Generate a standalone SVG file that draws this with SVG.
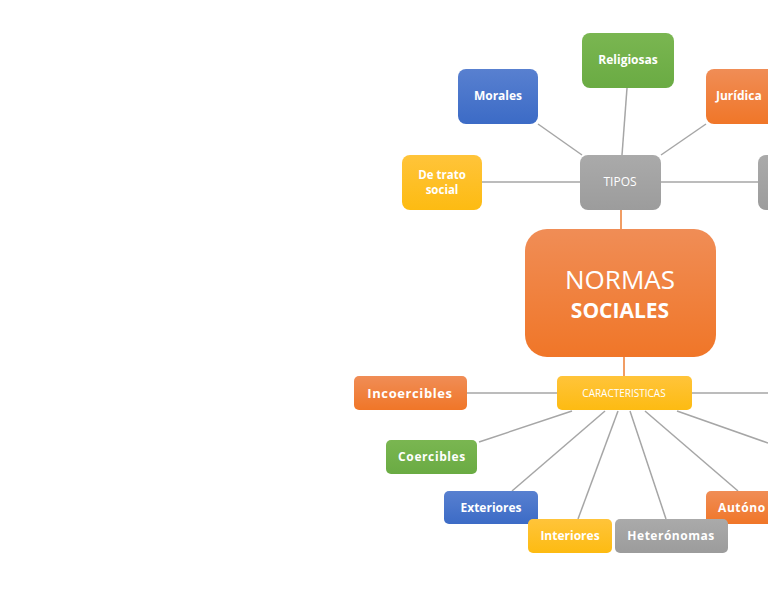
<svg xmlns="http://www.w3.org/2000/svg" width="768" height="594" viewBox="0 0 768 594">
<defs>
<linearGradient id="go" x1="0" y1="0" x2="0" y2="1"><stop offset="0" stop-color="#f08d56"/><stop offset="1" stop-color="#f07628"/></linearGradient>
<linearGradient id="gg" x1="0" y1="0" x2="0" y2="1"><stop offset="0" stop-color="#7ab651"/><stop offset="1" stop-color="#6aab43"/></linearGradient>
<linearGradient id="gb" x1="0" y1="0" x2="0" y2="1"><stop offset="0" stop-color="#5880d0"/><stop offset="1" stop-color="#3c6bc6"/></linearGradient>
<linearGradient id="gy" x1="0" y1="0" x2="0" y2="1"><stop offset="0" stop-color="#ffc43a"/><stop offset="1" stop-color="#fdbb12"/></linearGradient>
<linearGradient id="ga" x1="0" y1="0" x2="0" y2="1"><stop offset="0" stop-color="#aaaaaa"/><stop offset="1" stop-color="#9c9c9c"/></linearGradient>
</defs>
<style>
text{font-family:"Open Sans","Liberation Sans",sans-serif;fill:#fff;font-weight:bold;text-anchor:middle;font-size:12px}
.c line{stroke:#a6a6a6;stroke-width:1.5}
.c line.o{stroke:#ed7d31}
</style>
<rect width="768" height="594" fill="#fff"/>
<g class="c">
<line x1="538" y1="124" x2="582" y2="155"/>
<line x1="627" y1="88" x2="622" y2="155"/>
<line x1="706" y1="124" x2="661" y2="155"/>
<line x1="482" y1="182" x2="580" y2="182"/>
<line x1="661" y1="182" x2="758" y2="182"/>
<line class="o" x1="621" y1="210" x2="621" y2="229"/>
<line class="o" x1="624" y1="357" x2="624" y2="376"/>
<line x1="467" y1="393" x2="557" y2="393"/>
<line x1="692" y1="393" x2="768" y2="393"/>
<line x1="479" y1="442" x2="572" y2="411"/>
<line x1="512" y1="491" x2="605" y2="411"/>
<line x1="578" y1="519" x2="618" y2="411"/>
<line x1="666" y1="519" x2="630" y2="411"/>
<line x1="738" y1="491" x2="645" y2="411"/>
<line x1="677" y1="411" x2="768" y2="443"/>
</g>
<g id="religiosas"><rect x="582" y="33" width="92" height="55" rx="8" fill="url(#gg)"/><text x="628" y="64">Religiosas</text></g>
<g id="morales"><rect x="458" y="69" width="80" height="55" rx="8" fill="url(#gb)"/><text x="498" y="100">Morales</text></g>
<g id="juridicas"><rect x="706" y="69" width="80" height="55" rx="8" fill="url(#go)"/><text x="716" y="100" style="text-anchor:start">Jurídica</text></g>
<g id="detrato"><rect x="402" y="155" width="80" height="55" rx="8" fill="url(#gy)"/><text x="442" y="179" style="font-size:11.5px">De trato</text><text x="442" y="194" style="font-size:11.5px">social</text></g>
<g id="tipos"><rect x="580" y="155" width="81" height="55" rx="8" fill="url(#ga)"/><text x="620" y="186" style="font-weight:normal">TIPOS</text></g>
<g id="otro"><rect x="758" y="155" width="40" height="55" rx="8" fill="url(#ga)"/></g>
<g id="normas"><rect x="525" y="229" width="191" height="128" rx="22" fill="url(#go)"/><text x="620" y="289" style="font-size:26px;font-weight:normal">NORMAS</text><text x="620" y="318" style="font-size:21px">SOCIALES</text></g>
<g id="caracteristicas"><rect x="557" y="376" width="135" height="34" rx="5" fill="url(#gy)"/><text x="624" y="397" style="font-size:10px;font-weight:normal">CARACTERISTICAS</text></g>
<g id="incoercibles"><rect x="354" y="376" width="113" height="34" rx="5" fill="url(#go)"/><text x="410" y="398" style="font-size:13px;letter-spacing:0.6px">Incoercibles</text></g>
<g id="coercibles"><rect x="386" y="440" width="91" height="34" rx="5" fill="url(#gg)"/><text x="432" y="461" style="letter-spacing:0.6px">Coercibles</text></g>
<g id="exteriores"><rect x="444" y="491" width="94" height="33" rx="5" fill="url(#gb)"/><text x="491" y="512">Exteriores</text></g>
<g id="autonomas"><rect x="706" y="491" width="80" height="33" rx="5" fill="url(#go)"/><text x="718" y="512" style="text-anchor:start;letter-spacing:0.6px">Autóno</text></g>
<g id="interiores"><rect x="528" y="519" width="84" height="34" rx="5" fill="url(#gy)"/><text x="570" y="540">Interiores</text></g>
<g id="heteronomas"><rect x="615" y="519" width="113" height="34" rx="5" fill="url(#ga)"/><text x="671" y="540" style="letter-spacing:0.5px">Heterónomas</text></g>
</svg>
